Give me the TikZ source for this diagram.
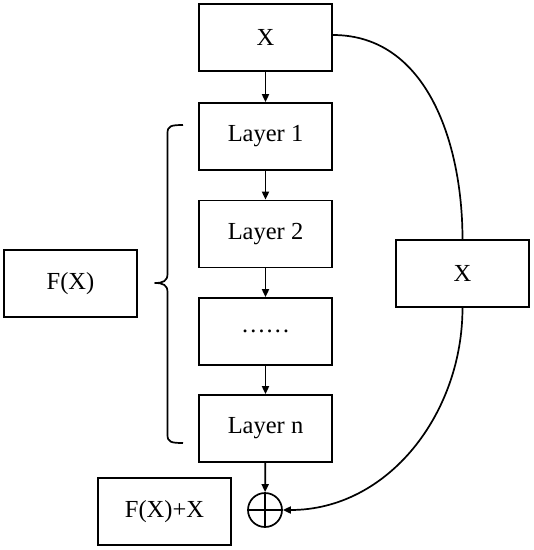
\documentclass[tikz,border=0pt]{standalone}
\usepackage{fontspec}
\setmainfont{Liberation Serif}
\usetikzlibrary{arrows.meta}
\begin{document}
\begin{tikzpicture}[x=1pt,y=-1pt,
  box/.style={draw,line width=1.7pt,minimum width=133pt,minimum height=67pt,inner sep=0pt,font=\fontsize{24.5}{28}\selectfont},
  conn/.style={line width=1.7pt,-{Triangle[length=8pt,width=7pt]}},
  plain/.style={line width=1.7pt}]
\useasboundingbox (0,0) rectangle (534,550);
\node[box] (x) at (265.5,37.5) {X};
\node[box] (l1) at (265.5,136.5) {Layer 1};
\node[box] (l2) at (265.5,234) {Layer 2};
\node[box] (ld) at (265.5,331.5) {……};
\node[box] (ln) at (265.5,428.5) {Layer n};
\node[box] (fx) at (70.5,283.5) {F(X)};
\node[box] (xr) at (462.5,273.5) {X};
\node[box] (fxx) at (164.5,511.5) {F(X)+X};
\node[draw,circle,line width=1.7pt,minimum size=34pt,inner sep=0pt] (sum) at (265,510) {};
\draw[line width=1.7pt] (sum.north) -- (sum.south) (sum.west) -- (sum.east);
\draw[conn] (x) -- (l1);
\draw[conn] (l1) -- (l2);
\draw[conn] (l2) -- (ld);
\draw[conn] (ld) -- (ln);
\draw[conn] (ln) -- (sum);
\draw[plain] (x.east |- 0,35) to[out=0,in=90] (xr.north);
\draw[conn] (xr.south) to[out=-90,in=0] (sum.east);
\draw[plain,line join=round] (183,125) .. controls (171,125) and (167.5,126) .. (167.5,133)
  -- (167.5,274) .. controls (167.5,281) and (163,283) .. (155,283)
  .. controls (163,283) and (167.5,285) .. (167.5,292)
  -- (167.5,435) .. controls (167.5,442) and (171,443) .. (183,443);
\end{tikzpicture}
\end{document}
